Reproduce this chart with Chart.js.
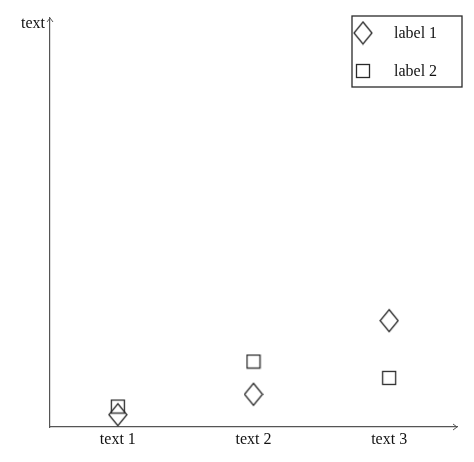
<!DOCTYPE html>
<html>
<head>
<meta charset="utf-8">
<script src="https://cdn.jsdelivr.net/npm/chart.js@4/dist/chart.umd.min.js"></script>
<style>
  html, body { margin: 0; padding: 0; background: #fff; }
  #wrap { width: 474px; height: 462px; }
</style>
</head>
<body>
<div id="wrap"><canvas id="chart"></canvas></div>
<script>
// data
const categories = ['text 1', 'text 2', 'text 3'];
const label1Values = [3, 8, 26];
const label2Values = [5, 16, 12];
const seriesLabels = ['label 1', 'label 2'];
const yTitle = 'text';

const FONT = '"Liberation Serif", "DejaVu Serif", serif';
const INK = '#2a2a2a';
const TEXT = '#111';
const AXIS = '#555';

// pgfplots style markers: tall diamond and square
function makeDiamond() {
  const c = document.createElement('canvas');
  c.width = 20; c.height = 25;
  const g = c.getContext('2d');
  g.strokeStyle = INK;
  g.lineWidth = 1.3;
  g.beginPath();
  g.moveTo(10, 1.5);
  g.lineTo(19, 12.5);
  g.lineTo(10, 23.5);
  g.lineTo(1, 12.5);
  g.closePath();
  g.stroke();
  return c;
}
function makeSquare() {
  const c = document.createElement('canvas');
  c.width = 16; c.height = 16;
  const g = c.getContext('2d');
  g.strokeStyle = INK;
  g.lineWidth = 1.3;
  g.strokeRect(1.5, 1.5, 13, 13);
  return c;
}
const diamond = makeDiamond();
const square = makeSquare();
const markers = [diamond, square];

const axisExtras = {
  id: 'axisExtras',
  afterDraw(chart) {
    const { ctx, chartArea: a } = chart;
    ctx.save();
    // arrow heads
    ctx.strokeStyle = AXIS;
    ctx.lineWidth = 1;
    ctx.beginPath();
    ctx.moveTo(a.left - 3, a.top + 4);
    ctx.lineTo(a.left, a.top);
    ctx.lineTo(a.left + 3, a.top + 4);
    ctx.moveTo(a.right - 4, a.bottom - 3);
    ctx.lineTo(a.right, a.bottom);
    ctx.lineTo(a.right - 4, a.bottom + 3);
    ctx.stroke();

    // y axis title
    ctx.fillStyle = TEXT;
    ctx.font = '16px ' + FONT;
    ctx.textAlign = 'right';
    ctx.textBaseline = 'alphabetic';
    ctx.fillText(yTitle, a.left - 5, a.top + 10);

    // legend box
    const bx = 352, by = 16, bw = 110, bh = 71;
    ctx.strokeStyle = INK;
    ctx.lineWidth = 1.3;
    ctx.strokeRect(bx, by, bw, bh);
    ctx.textAlign = 'left';
    ctx.textBaseline = 'middle';
    chart.data.datasets.forEach((ds, i) => {
      const cy = by + 17 + i * 38;
      const m = markers[i];
      ctx.drawImage(m, bx + 11 - m.width / 2, cy - m.height / 2);
      ctx.fillText(ds.label, bx + 42, cy + 1);
    });
    ctx.restore();
  }
};

new Chart(document.getElementById('chart'), {
  type: 'line',
  data: {
    labels: categories,
    datasets: [
      {
        label: seriesLabels[0],
        data: label1Values,
        showLine: false,
        pointStyle: diamond,
        pointRadius: 10,
        pointHoverRadius: 10
      },
      {
        label: seriesLabels[1],
        data: label2Values,
        showLine: false,
        pointStyle: square,
        pointRadius: 8,
        pointHoverRadius: 8
      }
    ]
  },
  options: {
    responsive: true,
    maintainAspectRatio: false,
    animation: false,
    events: [],
    layout: { padding: { top: 18, right: 17, left: 0, bottom: 0 } },
    plugins: {
      legend: { display: false },
      tooltip: { enabled: false }
    },
    scales: {
      x: {
        type: 'category',
        offset: true,
        grid: { display: false, drawTicks: false },
        border: { display: true, color: AXIS, width: 1.2 },
        ticks: { color: TEXT, font: { family: FONT, size: 16 }, padding: 3 },
        afterFit(scale) { scale.height = 35; }
      },
      y: {
        min: 0,
        max: 100,
        grid: { display: false, drawTicks: false },
        border: { display: true, color: AXIS, width: 1.2 },
        ticks: { display: false },
        afterFit(scale) { scale.width = 50; }
      }
    }
  },
  plugins: [axisExtras]
});
</script>
</body>
</html>
